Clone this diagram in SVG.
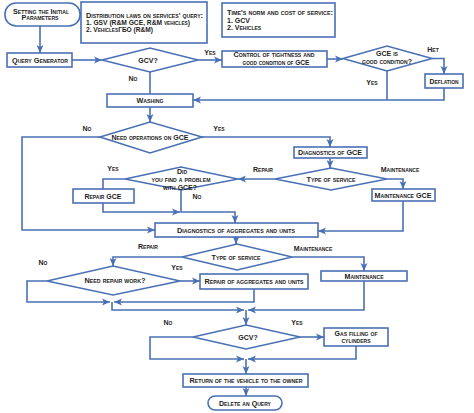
<svg xmlns="http://www.w3.org/2000/svg" width="474" height="413" viewBox="0 0 474 413">
<defs>
<style>
.b{fill:#fff;stroke:#4a70b4;stroke-width:1.6}
.c{fill:none;stroke:#4a70b4;stroke-width:1.6}
.a{marker-end:url(#ah)}
text{font-family:"Liberation Sans",Arial,sans-serif;font-size:7px;font-weight:bold;font-variant:small-caps;fill:#222}
.m{text-anchor:middle}
</style>
<marker id="ah" markerUnits="userSpaceOnUse" markerWidth="8" markerHeight="8" viewBox="0 0 8 8" refX="8" refY="4" orient="auto">
<path d="M0,0.5 L8,4 L0,7.5 L2,4 z" fill="#4a70b4"/>
</marker>
</defs>
<rect width="474" height="413" fill="#fff"/>
<g id="connectors">
<path class="c a" d="M40,26 V53"/>
<path class="c a" d="M72,60 H102"/>
<path class="c a" d="M198,60 H222"/>
<path class="c a" d="M327,59 H343"/>
<path class="c a" d="M432,58.5 H444 V74"/>
<path class="c" d="M150,72 V94"/>
<path class="c a" d="M444,88 V100 H193"/>
<path class="c" d="M387,71 V100"/>
<path class="c a" d="M150,107 V122"/>
<path class="c a" d="M100,137 H22 V230 H155"/>
<path class="c a" d="M202,137 H330 V147"/>
<path class="c a" d="M330,158 V168"/>
<path class="c a" d="M275,179 H238"/>
<path class="c a" d="M387,179 H403 V189"/>
<path class="c" d="M125,179 H103 V189"/>
<path class="c a" d="M103,203 V212 H180"/>
<path class="c a" d="M181,190 V212 H235 V223"/>
<path class="c a" d="M403,201 V231 H318"/>
<path class="c a" d="M236,237 V244"/>
<path class="c a" d="M182,257 H113 V266"/>
<path class="c a" d="M292,257 H364 V271"/>
<path class="c a" d="M180,281 H200"/>
<path class="c a" d="M47,281 H27 V302 H110"/>
<path class="c a" d="M254,289 V302 H114"/>
<path class="c a" d="M112,302 V310 H244"/>
<path class="c a" d="M364,281 V310 H248"/>
<path class="c a" d="M246,310 V325"/>
<path class="c a" d="M300,337 H324"/>
<path class="c a" d="M193,337 H150 V359 H244"/>
<path class="c a" d="M356,346 V359 H248"/>
<path class="c a" d="M246,359 V374"/>
<path class="c a" d="M246,387 V396"/>
</g>
<g id="labels">
<text class="m" x="210" y="55">Yes</text>
<text class="m" x="133" y="81">No</text>
<text class="m" x="433" y="52">Het</text>
<text class="m" x="372" y="85">Yes</text>
<text class="m" x="87" y="131">No</text>
<text class="m" x="219" y="131">Yes</text>
<text class="m" x="263" y="172">Repair</text>
<text class="m" x="400" y="172">Maintenance</text>
<text class="m" x="113" y="171">Yes</text>
<text class="m" x="197" y="199">No</text>
<text class="m" x="148" y="249">Repair</text>
<text class="m" x="313" y="251">Maintenance</text>
<text class="m" x="43" y="265">No</text>
<text class="m" x="177" y="270">Yes</text>
<text class="m" x="168" y="325">No</text>
<text class="m" x="297" y="325">Yes</text>
</g>
<g id="n-setting"><rect class="b" x="5" y="3" width="75" height="23" rx="11"/><text class="m" x="41" y="13.5" textLength="56" lengthAdjust="spacingAndGlyphs">Setting the Initial</text><text class="m" x="40" y="20" textLength="37" lengthAdjust="spacingAndGlyphs">Parameters</text></g>
<g id="n-dist"><rect class="b" x="81" y="2" width="126" height="41"/><text x="86" y="17.5" textLength="117" lengthAdjust="spacingAndGlyphs">Distribution laws on services' query:</text><text x="86" y="24.5" textLength="104" lengthAdjust="spacingAndGlyphs">1. GSV (R&amp;M GCE, R&amp;M vehicles)</text><text x="86" y="31.5" textLength="67" lengthAdjust="spacingAndGlyphs">2. VehiclesГБО (R&amp;M)</text></g>
<g id="n-time"><rect class="b" x="222" y="3" width="113" height="34"/><text x="227" y="14.5" textLength="106" lengthAdjust="spacingAndGlyphs">Time's norm and cost of service:</text><text x="227" y="22.5">1. GCV</text><text x="227" y="29.5">2. Vehicles</text></g>
<g id="n-qgen"><rect class="b" x="7" y="53" width="65" height="14"/><text class="m" x="40" y="62.5" textLength="56" lengthAdjust="spacingAndGlyphs">Query Generator</text></g>
<g id="n-gcv1"><polygon class="b" points="102,60 150,48 198,60 150,72"/><text class="m" x="148" y="62.5">GCV?</text></g>
<g id="n-control"><rect class="b" x="222" y="51" width="105" height="16"/><text class="m" x="274" y="57" textLength="81" lengthAdjust="spacingAndGlyphs">Control of tightness and</text><text class="m" x="276" y="64.5" textLength="67" lengthAdjust="spacingAndGlyphs">good condition of GCE</text></g>
<g id="n-gce"><polygon class="b" points="343,58.5 387,46 432,58.5 387,71"/><text class="m" x="387" y="55.5">GCE is</text><text class="m" x="387" y="64" textLength="50" lengthAdjust="spacingAndGlyphs">good condition?</text></g>
<g id="n-deflation"><rect class="b" x="425" y="74" width="38" height="14"/><text class="m" x="444" y="83.5" textLength="29" lengthAdjust="spacingAndGlyphs">Deflation</text></g>
<g id="n-washing"><rect class="b" x="107" y="94" width="86" height="13"/><text class="m" x="150" y="102.5" textLength="27" lengthAdjust="spacingAndGlyphs">Washing</text></g>
<g id="n-needops"><polygon class="b" points="100,137 150,122 202,137 150,153"/><text class="m" x="150" y="139.5" textLength="77" lengthAdjust="spacingAndGlyphs">Need operations on GCE</text></g>
<g id="n-diaggce"><rect class="b" x="294" y="147" width="73" height="11"/><text class="m" x="330" y="155" textLength="64" lengthAdjust="spacingAndGlyphs">Diagnostics of GCE</text></g>
<g id="n-type1"><polygon class="b" points="275,179 331,168 387,179 331,190"/><text class="m" x="331" y="181.5" textLength="49" lengthAdjust="spacingAndGlyphs">Type of service</text></g>
<g id="n-maintgce"><rect class="b" x="372" y="189" width="63" height="12"/><text class="m" x="403" y="197.5" textLength="57" lengthAdjust="spacingAndGlyphs">Maintenance GCE</text></g>
<g id="n-did"><polygon class="b" points="125,179 181,167 238,179 181,190"/><text class="m" x="182" y="173.5">Did</text><text class="m" x="181" y="181.5" textLength="59" lengthAdjust="spacingAndGlyphs">you find a problem</text><text class="m" x="180" y="189.5" textLength="34" lengthAdjust="spacingAndGlyphs">with GCE?</text></g>
<g id="n-repairgce"><rect class="b" x="73" y="189" width="61" height="14"/><text class="m" x="103" y="198.5" textLength="37" lengthAdjust="spacingAndGlyphs">Repair GCE</text></g>
<g id="n-diagagg"><rect class="b" x="155" y="223" width="163" height="14"/><text class="m" x="236" y="232.5" textLength="118" lengthAdjust="spacingAndGlyphs">Diagnostics of aggregates and units</text></g>
<g id="n-type2"><polygon class="b" points="182,257 237,244 292,257 237,270"/><text class="m" x="236" y="259.5" textLength="49" lengthAdjust="spacingAndGlyphs">Type of service</text></g>
<g id="n-needrep"><polygon class="b" points="47,281 113,266 180,281 113,295"/><text class="m" x="115" y="282.5" textLength="61" lengthAdjust="spacingAndGlyphs">Need repair work?</text></g>
<g id="n-repagg"><rect class="b" x="200" y="274" width="108" height="15"/><text class="m" x="254" y="284" textLength="99" lengthAdjust="spacingAndGlyphs">Repair of aggregates and units</text></g>
<g id="n-maint"><rect class="b" x="321" y="271" width="86" height="10"/><text class="m" x="364" y="278.5" textLength="39" lengthAdjust="spacingAndGlyphs">Maintenance</text></g>
<g id="n-gcv2"><polygon class="b" points="193,337 246,325 300,337 246,349"/><text class="m" x="248" y="339.5">GCV?</text></g>
<g id="n-gas"><rect class="b" x="324" y="328" width="64" height="18"/><text class="m" x="356" y="335.5" textLength="43" lengthAdjust="spacingAndGlyphs">Gas filling of</text><text class="m" x="356" y="342.5" textLength="29" lengthAdjust="spacingAndGlyphs">cylinders</text></g>
<g id="n-return"><rect class="b" x="183" y="374" width="125" height="13"/><text class="m" x="246" y="383" textLength="113" lengthAdjust="spacingAndGlyphs">Return of the vehicle to the owner</text></g>
<g id="n-delete"><rect class="b" x="208" y="396" width="74" height="14" rx="7"/><text class="m" x="245" y="405.5" textLength="52" lengthAdjust="spacingAndGlyphs">Delete an Query</text></g>
</svg>
